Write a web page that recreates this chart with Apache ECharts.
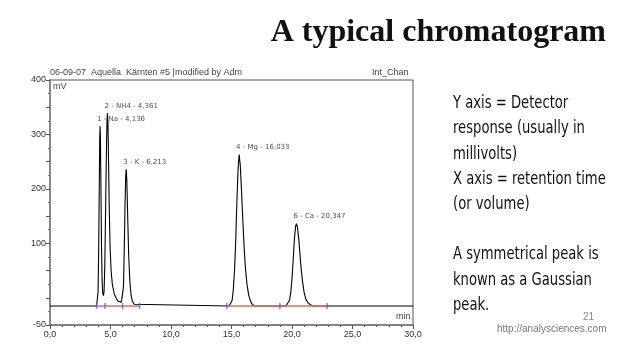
<!DOCTYPE html>
<html>
<head>
<meta charset="utf-8">
<script src="https://cdn.jsdelivr.net/npm/echarts@6/dist/echarts.min.js"></script>
<style>
html,body{margin:0;padding:0;background:#fff;}
#chart{width:638px;height:359px;}
</style>
</head>
<body>
<div id="chart"></div>
<script>
// Retention time (min) and detector signal (mV)
var time = [0, 3.85, 3.92, 3.97, 4.02, 4.07, 4.11, 4.14, 4.17, 4.21, 4.26, 4.31, 4.36, 4.42,
  4.47, 4.53, 4.6, 4.67, 4.72, 4.75, 4.79, 4.84, 4.9, 4.97, 5.05, 5.15, 5.3, 5.45, 5.6, 5.75, 5.9,
  6.0, 6.07, 6.13, 6.2, 6.26, 6.3, 6.35, 6.42, 6.5, 6.6, 6.7, 6.8, 6.95, 7.1,
  14.8, 14.95, 15.05, 15.15, 15.25, 15.35, 15.45, 15.55, 15.63, 15.72, 15.82, 15.93, 16.05, 16.15, 16.28, 16.42, 16.58, 16.75, 16.95,
  19.5, 19.65, 19.8, 19.9, 20.0, 20.1, 20.2, 20.3, 20.37, 20.45, 20.55, 20.65, 20.75, 20.87, 21.0, 21.15, 21.35, 21.6, 21.8, 30];
var signal = [-15, -15, -12, 10, 80, 200, 295, 315, 290, 200, 90, 30, 8, 4,
  12, 60, 170, 280, 330, 339, 320, 250, 160, 90, 50, 25, 8, 0, -6, -8, -8,
  -5, 20, 80, 170, 225, 236, 215, 150, 80, 30, 5, -6, -12, -15,
  -15, -12, -5, 15, 50, 105, 180, 240, 263, 245, 200, 145, 90, 55, 25, 5, -7, -13, -15,
  -15, -12, -4, 10, 35, 70, 108, 132, 136, 130, 110, 82, 55, 30, 10, -3, -10, -14, -15, -15];

// Integration baselines (start, end) and level
var baselineLevel = -15;
var segStart = [3.8, 14.5];
var segEnd = [7.4, 22.9];
// Peak start/end markers
var markerTimes = [3.85, 4.55, 6.0, 7.4, 14.6, 19.0, 22.9];

// Peak annotations
var peakNames = ["1 - Na - 4,136", "2 - NH4 - 4,361", "3 - K - 6,213", "4 - Mg - 16,033", "6 - Ca - 20,347"];
var peakTimes = [4.14, 4.75, 6.3, 15.63, 20.37];
var peakHeights = [315, 339, 236, 263, 136];

// Axis tick labels
var xTicks = [0, 5, 10, 15, 20, 25, 30];
var yLabelValues = [400, 300, 200, 100, -50];

var chart = echarts.init(document.getElementById('chart'));

var tracePts = time.map(function (t, i) { return [t, signal[i]]; });
var series = [{
  type: 'line', data: tracePts, symbol: 'none', silent: true,
  lineStyle: { color: '#000', width: 1.1 }, z: 3
}];
segStart.forEach(function (s, i) {
  series.push({
    type: 'line', data: [[s, baselineLevel], [segEnd[i], baselineLevel]], symbol: 'none', silent: true,
    lineStyle: { color: '#e86a6a', width: 1.6 }, z: 4
  });
});
series.push({
  type: 'scatter', data: markerTimes.map(function (t) { return [t, baselineLevel]; }),
  symbol: 'rect', symbolSize: [1.5, 6], itemStyle: { color: '#6a5acd' }, silent: true, z: 5
});
series.push({
  type: 'scatter', silent: true, z: 6,
  data: peakTimes.map(function (t, i) { return { value: [t, peakHeights[i]], name: peakNames[i] }; }),
  symbolSize: 0,
  label: {
    show: true, position: 'top', distance: 4, align: 'left',
    formatter: function (p) { return p.name; },
    fontFamily: 'DejaVu Sans', fontSize: 7, color: '#222', offset: [-3, 0]
  }
});

chart.setOption({
  animation: false,
  backgroundColor: '#fff',
  grid: { left: 50, right: 225, top: 80, bottom: 34, show: true, borderColor: '#555', borderWidth: 1 },
  xAxis: {
    type: 'value', min: xTicks[0], max: xTicks[xTicks.length - 1], interval: 5,
    axisLine: { onZero: false, lineStyle: { color: '#777', width: 1.5 } },
    axisTick: { show: true, length: 4, lineStyle: { color: '#555' } },
    minorTick: { show: true, splitNumber: 5, length: 2, lineStyle: { color: '#555' } },
    splitLine: { show: false },
    axisLabel: {
      color: '#333', fontSize: 9, fontFamily: 'Liberation Sans', margin: 5,
      formatter: function (v) { return xTicks.indexOf(v) >= 0 ? v.toFixed(1).replace('.', ',') : ''; }
    }
  },
  yAxis: {
    type: 'value', min: -50, max: 400, interval: 50,
    axisLine: { show: true, onZero: false, lineStyle: { color: '#888', width: 2 } },
    axisTick: { show: true, length: 4, lineStyle: { color: '#555' } },
    minorTick: { show: true, splitNumber: 2, length: 2, lineStyle: { color: '#777' } },
    splitLine: { show: false },
    axisLabel: {
      color: '#333', fontSize: 9, fontFamily: 'Liberation Sans', margin: 4,
      formatter: function (v) { return yLabelValues.indexOf(v) >= 0 ? String(v) : ''; }
    }
  },
  series: series,
  graphic: [
    { type: 'text', right: 32, top: 17, style: { text: 'A typical chromatogram', fontFamily: 'Liberation Serif', fontWeight: 'bold', fontSize: 32, fill: '#111' } },
    { type: 'text', left: 50, top: 68, style: { text: '06-09-07  Aquella  Kärnten #5 |modified by Adm', fontFamily: 'Liberation Sans', fontSize: 9, fill: '#444' } },
    { type: 'text', left: 372, top: 68, style: { text: 'Int_Chan', fontFamily: 'Liberation Sans', fontSize: 9, fill: '#444' } },
    { type: 'text', left: 53, top: 82, style: { text: 'mV', fontFamily: 'Liberation Sans', fontSize: 9, fill: '#444' } },
    { type: 'text', left: 396, top: 312, style: { text: 'min', fontFamily: 'Liberation Sans', fontSize: 9, fill: '#444' } },
    { type: 'text', x: 453, y: 91, scaleX: 0.86, scaleY: 1.05, style: {
      text: 'Y axis = Detector\nresponse (usually in\nmillivolts)\nX axis = retention time\n(or volume)\n\nA symmetrical peak is\nknown as a Gaussian\npeak.',
      fontFamily: "'DejaVu Sans Condensed', 'Liberation Sans'", fontSize: 17, lineHeight: 24, fill: '#111' } },
    { type: 'text', left: 583, top: 312, style: { text: '21', fontFamily: 'Liberation Sans', fontSize: 10, fill: '#888' } },
    { type: 'text', left: 497, top: 324, style: { text: 'http://analysciences.com', fontFamily: 'Liberation Sans', fontSize: 10, fill: '#777' } }
  ]
});
</script>
</body>
</html>
